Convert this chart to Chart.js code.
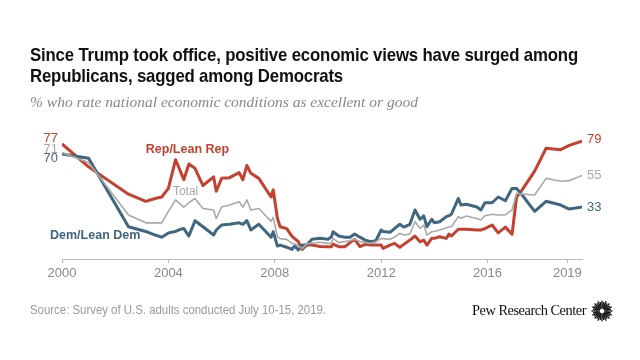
<!DOCTYPE html>
<html>
<head>
<meta charset="utf-8">
<script src="https://cdn.jsdelivr.net/npm/chart.js@4"></script>
<style>
  body { margin: 0; background: #fff; }
  #wrap { position: relative; width: 640px; height: 360px; overflow: hidden; }
  #chart { position: absolute; left: 0; top: 0; }
  .fit { position: absolute; white-space: nowrap; transform-origin: 0 50%; }
  .title { left: 30px; font: bold 19px "Liberation Sans", sans-serif; color: #111; letter-spacing: -0.2px; }
  .subtitle { left: 30px; top: 93px; font: italic 15.5px "Liberation Serif", serif; color: #888; }
  .source { left: 30px; top: 303px; font: 12px "Liberation Sans", sans-serif; color: #999; }
  .pew { left: 472px; top: 302px; font: 15px "Liberation Serif", serif; letter-spacing: -0.5px; color: #111; }
  #logo { position: absolute; left: 591px; top: 300px; }
</style>
</head>
<body>
<div id="wrap">
  <canvas id="chart" width="640" height="360"></canvas>
  <div class="fit title" style="top:44px" data-w="548">Since Trump took office, positive economic views have surged among</div>
  <div class="fit title" style="top:65px" data-w="313">Republicans, sagged among Democrats</div>
  <div class="fit subtitle" data-w="388">% who rate national economic conditions as excellent or good</div>
  <div class="fit source" data-w="296">Source: Survey of U.S. adults conducted July 10-15, 2019.</div>
  <div class="fit pew" data-w="114">Pew Research Center</div>
  <svg id="logo" width="22" height="22" viewBox="-12 -12 24 24"></svg>
</div>
<script>
// survey dates as decimal years
const dates = [
  2000.0, 2001.0, 2002.5, 2003.15, 2003.5, 2003.75, 2004.0, 2004.27, 2004.45, 2004.58,
  2004.77, 2005.0, 2005.3, 2005.7, 2005.8, 2006.0, 2006.3, 2006.66, 2006.8, 2006.95,
  2007.1, 2007.4, 2007.86, 2007.94, 2008.1, 2008.2, 2008.45, 2008.64, 2008.75, 2008.88,
  2009.03, 2009.2, 2009.4, 2009.7, 2010.0, 2010.13, 2010.19, 2010.4, 2010.64, 2010.83,
  2011.0, 2011.2, 2011.4, 2011.6, 2011.8, 2012.0, 2012.07, 2012.33, 2012.5, 2012.7,
  2012.85, 2013.08, 2013.27, 2013.46, 2013.6, 2013.72, 2013.9, 2014.0, 2014.2, 2014.45,
  2014.55, 2014.64, 2014.9, 2015.0, 2015.2, 2015.6, 2015.75, 2015.9, 2016.17, 2016.4,
  2016.67, 2016.92, 2017.09, 2017.3, 2017.77, 2018.2, 2018.75, 2019.07, 2019.55
];

const repValues = [
  77, 61, 42, 37, 39, 40, 46, 66, 58, 52,
  63, 60, 48, 54, 44, 53, 53.5, 57, 52, 62,
  56.5, 53, 40, 45, 25, 19.3, 18, 12.8, 11, 9,
  3.5, 6.5, 6.5, 5.5, 5.4, 5.4, 7.2, 5.4, 5.4, 8.2,
  10.5, 5.4, 7, 6.5, 6.5, 6.5, 4.2, 6.5, 7.7, 5,
  7, 10, 12.8, 8.8, 10, 6.5, 11.2, 11.2, 12.3, 11.2,
  14.2, 12.8, 17.5, 17.5, 17.5, 17, 17, 18, 20.5, 15,
  19, 14, 40, 45, 58, 74, 73, 76, 79
];

const totalValues = [
  71, 64, 27.5, 22, 22, 22, 30, 38, 35, 33,
  36, 39, 32, 31, 25, 33, 34.4, 36.7, 33, 38,
  31, 32, 23, 25.8, 12.3, 11, 10.5, 7.7, 7.2, 6,
  4.2, 7.2, 8, 8.5, 7.7, 8, 11.2, 8.2, 9, 9.5,
  10.5, 9, 8.2, 7.7, 8.8, 11.2, 11, 10.5, 12, 14.7,
  13.5, 14.2, 22.8, 18.2, 20.5, 13.5, 15.8, 16, 17, 18.5,
  19.3, 19.3, 26.3, 25.2, 26.8, 25, 24, 27, 28, 27.5,
  27.5, 31, 42.6, 42, 41.4, 53, 51, 51.4, 55
];

const demValues = [
  70, 67, 19.3, 16, 13.5, 12, 15, 16, 17.5, 18,
  12.8, 23.5, 19.3, 13.5, 17, 20.5, 21, 22, 21, 23.5,
  17, 21, 12, 15.8, 5.8, 6.5, 5, 3.5, 5.8, 3,
  6.5, 6.5, 10.5, 11.2, 10.5, 12.3, 15.8, 12.8, 12, 12,
  14.2, 12, 10, 8.8, 9.5, 17, 16, 15.4, 18, 21,
  19, 21, 31, 24.5, 26.8, 19.3, 24.5, 22, 22.8, 26.3,
  27, 28, 39, 34.4, 35, 33, 31, 36, 36, 40,
  37.4, 46, 46, 41.4, 30, 37, 34.4, 31.6, 33
];

const xTicks = [2000, 2004, 2008, 2012, 2016, 2019];

const RED = "#c4402f", BLUE = "#41667f", GRAY = "#a9a9a9";

function pts(vals) {
  return vals.map((v, i) => ({ x: dates[i], y: v }));
}

// squeeze text blocks to the widths of the original condensed fonts
document.querySelectorAll(".fit").forEach(el => {
  const w = el.getBoundingClientRect().width;
  el.style.transform = `scaleX(${(+el.dataset.w / w).toFixed(4)})`;
});

// end value labels and series names
const labelPlugin = {
  id: 'seriesLabels',
  afterDatasetsDraw(c) {
    const ctx = c.ctx, xs = c.scales.x, ys = c.scales.y;
    const first = dates[0], last = dates[dates.length - 1];
    const n = dates.length - 1;
    ctx.save();
    ctx.textBaseline = 'middle';
    ctx.font = '13px "Liberation Sans", sans-serif';
    ctx.textAlign = 'right';
    const lx = xs.getPixelForValue(first) - 4;
    ctx.fillStyle = RED;  ctx.fillText(String(repValues[0]), lx, ys.getPixelForValue(repValues[0]) - 5);
    ctx.fillStyle = GRAY; ctx.fillText(String(totalValues[0]), lx, ys.getPixelForValue(totalValues[0]) - 3);
    ctx.fillStyle = BLUE; ctx.fillText(String(demValues[0]), lx, ys.getPixelForValue(demValues[0]) + 4);
    ctx.textAlign = 'left';
    const rx = xs.getPixelForValue(last) + 5;
    ctx.fillStyle = RED;  ctx.fillText(String(repValues[n]), rx, ys.getPixelForValue(repValues[n]) - 2);
    ctx.fillStyle = GRAY; ctx.fillText(String(totalValues[n]), rx, ys.getPixelForValue(totalValues[n]));
    ctx.fillStyle = BLUE; ctx.fillText(String(demValues[n]), rx, ys.getPixelForValue(demValues[n]));

    ctx.font = 'bold 12.5px "Liberation Sans", sans-serif';
    ctx.fillStyle = RED;  ctx.fillText('Rep/Lean Rep', xs.getPixelForValue(2003.15), ys.getPixelForValue(73.4));
    ctx.fillStyle = BLUE; ctx.fillText('Dem/Lean Dem', xs.getPixelForValue(1999.55), ys.getPixelForValue(12.8));
    ctx.font = '12px "Liberation Sans", sans-serif';
    ctx.fillStyle = GRAY; ctx.fillText('Total', xs.getPixelForValue(2004.17), ys.getPixelForValue(43.5));
    ctx.restore();
  }
};

new Chart(document.getElementById("chart"), {
  type: "line",
  data: {
    datasets: [
      { label: "Total", data: pts(totalValues), borderColor: GRAY, borderWidth: 1.6 },
      { label: "Dem/Lean Dem", data: pts(demValues), borderColor: BLUE, borderWidth: 3 },
      { label: "Rep/Lean Rep", data: pts(repValues), borderColor: RED, borderWidth: 3 }
    ]
  },
  options: {
    responsive: false,
    animation: false,
    events: [],
    elements: { point: { radius: 0 }, line: { tension: 0, borderJoinStyle: 'round' } },
    layout: { padding: { left: 62, right: 58, top: 130, bottom: 71 } },
    plugins: { legend: { display: false }, tooltip: { enabled: false } },
    scales: {
      x: {
        type: 'linear', min: 2000, max: 2019.55,
        afterBuildTicks: s => { s.ticks = xTicks.map(v => ({ value: v })); },
        afterFit: s => { s.height = 30; },
        grid: { display: true, drawOnChartArea: false, drawTicks: true, tickLength: 4, color: '#bbb' },
        border: { display: true, color: '#bbb', width: 1 },
        ticks: {
          color: '#888', padding: 3, maxRotation: 0, autoSkip: false,
          font: { family: '"Liberation Sans", sans-serif', size: 13 },
          callback: v => String(v)
        }
      },
      y: { display: false, min: -3.2, max: 86.7 }
    }
  },
  plugins: [labelPlugin]
});

// sunburst logo
const svg = document.getElementById("logo");
for (let i = 0; i < 32; i++) {
  const a = i * Math.PI / 16;
  const r1 = (i % 2 ? 4.5 : 2.5), r2 = (i % 2 ? 10 : 11.5);
  const l = document.createElementNS("http://www.w3.org/2000/svg", "line");
  l.setAttribute("x1", (r1 * Math.cos(a)).toFixed(2));
  l.setAttribute("y1", (r1 * Math.sin(a)).toFixed(2));
  l.setAttribute("x2", (r2 * Math.cos(a)).toFixed(2));
  l.setAttribute("y2", (r2 * Math.sin(a)).toFixed(2));
  l.setAttribute("stroke", "#111");
  l.setAttribute("stroke-width", "1.4");
  svg.appendChild(l);
}
</script>
</body>
</html>
